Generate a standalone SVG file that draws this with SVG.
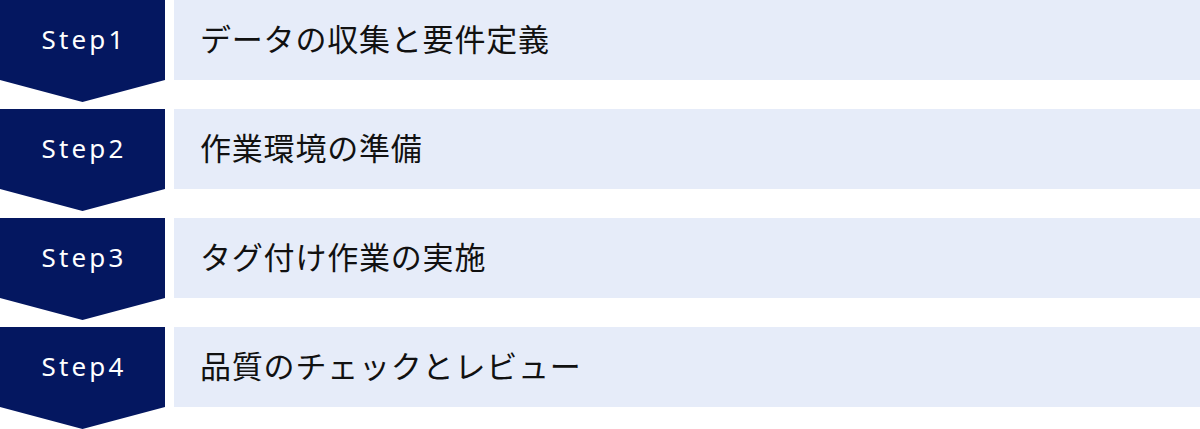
<svg xmlns="http://www.w3.org/2000/svg" width="1200" height="429" viewBox="0 0 1200 429">
<style>
.step{fill:#041760}
.box{fill:#E6ECF9}
.st{font-family:"Noto Sans","Noto Sans CJK JP",sans-serif;font-size:26px;fill:#ffffff;letter-spacing:3.2px;text-anchor:middle}
.lb{font-family:"Noto Sans CJK JP","Noto Sans",sans-serif;font-size:31px;fill:#111111;letter-spacing:0.8px}
</style>
<defs>
<path id="chev" d="M0,0 H165 V80 L82.5,102 L0,80 Z"/>
</defs>
<g id="connectors"></g>
<g id="step1">
<use href="#chev" class="step"/>
<rect class="box" x="174" y="0" width="1026" height="80"/>
<text class="st" x="84" y="49">Step1</text>
<text class="lb" x="200" y="51">データの収集と要件定義</text>
</g>
<g id="step2" transform="translate(0,109)">
<use href="#chev" class="step"/>
<rect class="box" x="174" y="0" width="1026" height="80"/>
<text class="st" x="84" y="49">Step2</text>
<text class="lb" x="200" y="51">作業環境の準備</text>
</g>
<g id="step3" transform="translate(0,218)">
<use href="#chev" class="step"/>
<rect class="box" x="174" y="0" width="1026" height="80"/>
<text class="st" x="84" y="49">Step3</text>
<text class="lb" x="200" y="51">タグ付け作業の実施</text>
</g>
<g id="step4" transform="translate(0,327)">
<use href="#chev" class="step"/>
<rect class="box" x="174" y="0" width="1026" height="80"/>
<text class="st" x="84" y="49">Step4</text>
<text class="lb" x="200" y="51">品質のチェックとレビュー</text>
</g>
</svg>
